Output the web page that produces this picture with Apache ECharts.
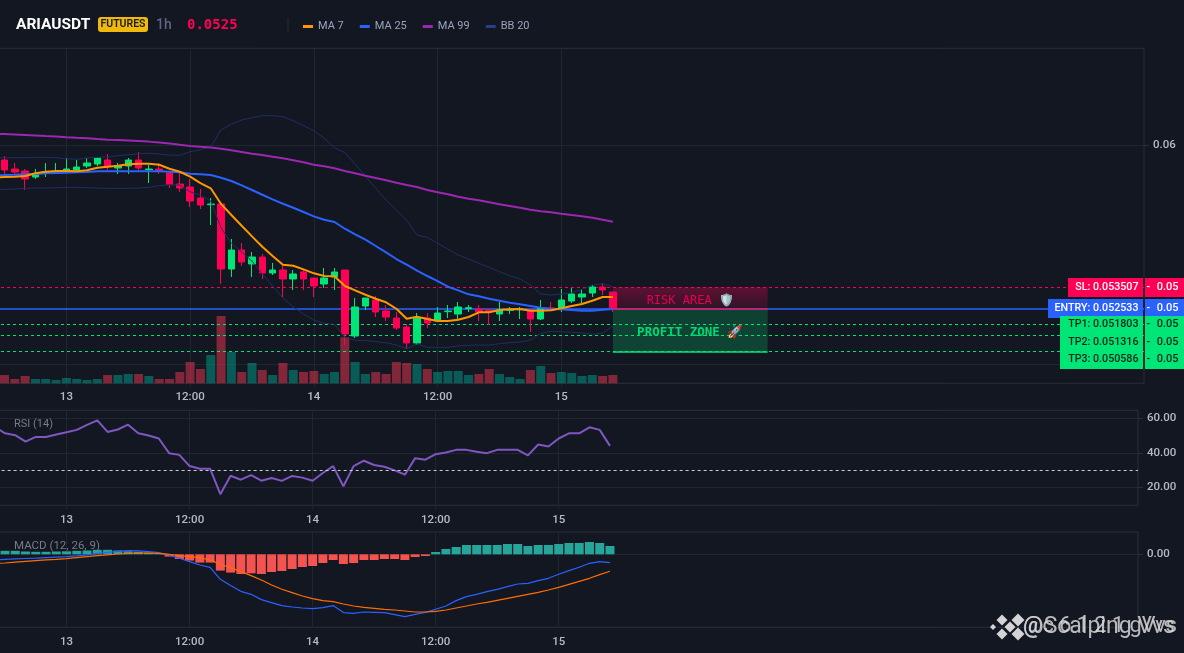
<!DOCTYPE html>
<html><head><meta charset="utf-8">
<style>html,body{margin:0;padding:0;background:#131722}#c{width:1184px;height:653px}</style>
<script src="https://cdn.jsdelivr.net/npm/echarts@6/dist/echarts.min.js"></script>
</head><body><div id="c"></div>
<script>
// prices are in millionths of USDT
const tickIdx=[7,19,31,43,55];
const tickLabels=['13','12:00','14','12:00','15'];
const priceTicks=[50000,60000];
const levelNames=['SL','ENTRY','TP1','TP2','TP3'];
const levelValues=[53507,52533,51803,51316,50586];
const ohlc=[[59400,59250,59150,59500],
[59327,58870,58688,59510],[58916,58779,58688,59190],[58825,58459,57957,58916],[58551,58672,58459,58916],[58749,58794,58551,59190],[58764,58794,58718,59190],[58779,58916,58749,59419],[58870,59007,58825,59327],[59053,59190,58962,59419],[59145,59419,59053,59419],
[59327,59053,58870,59601],[58962,59053,58688,59190],[59053,59327,58688,59419],[59327,58962,58870,59693],[58886,58916,58276,59099],[58916,58840,58688,59190],[58733,58200,58048,58825],[58231,58048,57865,58733],[58094,57454,57180,58459],[57591,57271,57088,58002],
[57286,57317,56357,57591],[57317,54347,53662,57317],[54347,55215,53982,55718],[55215,54667,54484,55535],[54575,54895,53982,55124],[54895,54164,53890,55032],[54164,54301,54073,54621],[54301,53890,53068,54530],[53890,54119,53388,54301],[54210,53890,53388,54301],
[53936,53570,53068,53936],[53660,53935,53478,54391],[53980,54209,53386,54391],[54300,51376,50873,54300],[51285,52610,51193,53021],[52655,53021,52473,53021],[52929,52381,52153,53112],[52427,52153,51970,52701],[52107,51650,51559,52381],[51696,50965,50691,51833],
[50965,52107,50873,52335],[52107,51879,51650,52335],[51970,52335,51924,52610],[52396,52427,52107,52701],[52290,52610,52016,52838],[52533,52579,52381,52701],[52518,52381,51970,52701],[52473,52427,51787,52518],[52290,52473,51970,52838],[52457,52488,52290,52610],
[52488,52518,52061,52610],[52473,52061,51467,52518],[52061,52564,52016,52929],[52564,52473,52427,52838],[52564,52929,52381,53432],[52884,53204,52792,53478],[53066,53204,52792,53432],[53249,53523,53066,53615],[53523,53386,53158,53706],[53295,52564,52381,53295]];
const volume=[6,8.3,4.3,7.3,4.3,4.3,3.3,5.3,4.3,3.3,4.3,8.3,8.3,9.3,9.3,7.3,4.3,4.3,11.3,21.3,14.3,28.3,67.3,31.3,11.3,20.3,13.3,8.3,20.3,13.3,11.3,12.3,9.3,11.3,46,21.3,9.3,11.3,9.3,21.3,20.3,19.3,14.3,11.3,12.3,12.3,8.3,9.3,14.3,9.3,6.3,4.3,13.3,17.3,10.3,11.3,10.3,7.3,8.3,7.3,8.3];
const ma7=[58530,58550,58564,58596,58719,58792,58824,58824,58811,58856,58975,59021,59067,59130,59158,59158,59112,58929,58792,58564,58276,58034,57316,56813,56325,55839,55365,54940,54542,54497,54332,54149,54026,54012,53569,53372,53171,52988,52824,52531,52074,52166,52061,51969,51969,52029,52152,52367,52367,52472,52504,52518,52440,52440,52458,52550,52655,52746,52897,53066,53066];
const ma25=[58630,58641,58655,58673,58687,58719,58733,58747,58765,58779,58811,58811,58811,58811,58811,58811,58811,58792,58765,58701,58673,58641,58518,58367,58171,57956,57741,57531,57330,57147,56951,56754,56599,56494,56187,55931,55685,55397,55109,54803,54542,54268,54026,53797,53537,53372,53189,53098,52988,52897,52806,52732,52655,52577,52531,52504,52472,52440,52440,52486,52518];
const ma99=[60530,60515,60497,60474,60451,60424,60401,60369,60342,60319,60287,60259,60241,60218,60195,60168,60127,60081,60022,59967,59930,59898,59843,59770,59693,59615,59555,59478,59405,59313,59222,59112,59039,58948,58824,58719,58610,58504,58399,58290,58184,58093,57956,57851,57759,57650,57558,57485,57394,57302,57225,57147,57056,56983,56937,56873,56813,56754,56690,56599,56507];
const bbUpper=[59432,59432,59432,59432,59450,59450,59432,59386,59359,59418,59450,59478,59524,59569,59615,59633,59601,59555,59542,59706,59798,59935,60698,60972,61155,61260,61352,61352,61306,61123,60895,60666,60319,59889,59661,59144,58596,58034,57499,57042,56585,55899,55794,55520,55260,54985,54803,54606,54423,54222,54040,53889,53614,53203,53157,53203,53263,53418,53614,53674,53537];
const bbLower=[57980,57988,58002,58034,58047,58047,58061,58079,58079,58061,58047,58034,58034,58034,58047,58079,58153,58198,58184,57878,57714,57453,56219,55534,55123,54711,54117,53569,53020,52609,52289,52015,51864,51818,51224,51087,51087,51023,50978,50872,50703,50918,50767,50767,50767,50827,50859,50872,50872,50932,50978,51010,51101,51407,51499,51480,51453,51421,51361,51421,51741];
const rsi=[55,51.3,50.2,46.5,49.2,49.2,50.6,51.9,53.3,56.2,58.8,52.1,53.5,56.3,51.3,50,48.3,39.8,38.8,32.3,30.8,30.8,16,26.7,24.4,27.1,23.8,25.4,23.7,26.6,25.6,23.8,28.3,32.3,20.6,32.3,35.4,32.9,31.9,29.8,27.3,36.9,36,39.2,40.2,41.7,41.7,40.6,39.8,41.7,41.7,41.7,38.5,44.8,43.7,48.3,51.3,51.3,54.8,53.3,44];
const rsiOversold=30;
// MACD values in units of 0.00001
const macdHist=[3.5,3.5,3.5,2.8,2.5,2.5,2.8,3,3.5,3.8,4.5,4.5,3.8,3,2.5,1.8,1,-2.3,-4.7,-6.3,-8.3,-8.3,-16.3,-18.3,-19.7,-19,-19.7,-17.7,-16.7,-14.7,-12.7,-11.7,-8.7,-5.7,-9.7,-8.7,-5.7,-5.7,-4.7,-4.7,-5.7,-2.7,-1.7,2.3,5.3,7.3,9.3,9.3,9.3,9.3,10.3,10.3,8.3,9.3,9.3,10.3,11.3,11.3,12.3,11.3,8.3];
const macdLine=[-5.6,-5,-4.6,-4.2,-3.8,-3.3,-2.8,-2.3,-1.6,-0.6,1,2,3,3.7,3.4,2.6,1.7,-0.8,-4,-7.3,-10.7,-13,-25,-31.3,-37,-40,-45.3,-48.3,-51.3,-52.7,-53.7,-54.3,-53.3,-51.3,-58.3,-59,-57.7,-58,-58.3,-60.3,-62.3,-60,-58,-55,-51.7,-46.3,-42.3,-40,-37.3,-35,-32.3,-29.7,-29,-26.3,-24,-20,-16.3,-13,-9,-7.3,-8.3];
const macdSignal=[-9.2,-8.7,-7.9,-7.1,-6.3,-5.6,-5,-4.3,-3.3,-2.3,-1.3,-0.5,0.3,1,1.1,1.1,1,0,-1.3,-2.3,-3.3,-5.7,-10,-13.3,-17.3,-21.3,-25.7,-30.7,-35,-38.3,-41.7,-44.3,-46.3,-47.3,-49.7,-51.7,-53,-54,-55,-55.7,-56.7,-57.7,-57.7,-57,-55.7,-53.7,-51.7,-49.7,-48,-46,-44,-42,-40,-38,-35.7,-33,-30,-27,-24,-20.3,-17];

const N=112;
const cats=Array.from({length:N},(_,i)=>String(i));
const bg='#131722',gridC='#21252f',borderC='#2a2e39',axisTxt='#b7bac3';
const up='#00e676',down='#ff0055';
const SANS='Roboto,sans-serif';

const xAxisOf=(g,show,margin)=>({type:'category',gridIndex:g,data:cats,boundaryGap:true,
  axisLine:{show:false},
  axisTick:{show:show,alignWithLabel:true,length:4,lineStyle:{color:gridC},interval:i=>tickIdx.includes(i)},
  axisLabel:{show:show,interval:i=>tickIdx.includes(i),color:axisTxt,fontFamily:SANS,fontSize:11.5,fontWeight:500,margin:margin,
    formatter:v=>{const k=tickIdx.indexOf(+v);return k>=0?tickLabels[k]:''}},
  splitLine:{show:show,alignWithLabel:true,lineStyle:{color:gridC},interval:i=>tickIdx.includes(i)}});
const yAxisOf=(g,min,max,ticks,fmt,margin)=>({type:'value',gridIndex:g,position:'right',min,max,
  axisLine:{show:false},
  axisTick:{show:true,length:5,lineStyle:{color:borderC},customValues:ticks},
  axisLabel:{show:true,color:axisTxt,fontFamily:SANS,fontSize:11.5,fontWeight:500,margin:margin,padding:[4,0,0,0],customValues:ticks,formatter:fmt,showMinLabel:true,showMaxLabel:true},
  splitLine:{show:true,lineStyle:{color:gridC}}});

const lineS=(name,data,color,width,x,y,z)=>({name,type:'line',xAxisIndex:x,yAxisIndex:y,data,showSymbol:false,symbol:'none',
  lineStyle:{color,width},itemStyle:{color},z,animation:false,silent:true});
const level=(n)=>levelValues[levelNames.indexOf(n)];
const grad=(a,b)=>({type:'linear',x:0,y:0,x2:0,y2:1,colorStops:[{offset:0,color:a},{offset:1,color:b}]});
const paneBase={show:true,borderColor:borderC,borderWidth:1,backgroundColor:'transparent',outerBoundsMode:'none'};

const option={
  backgroundColor:bg,animation:false,
  grid:[
    {...paneBase,left:-10.96,top:48.3,width:1154.96,height:335},
    {left:-10.96,top:48.3,width:1154.96,height:335,outerBoundsMode:'none'},
    {...paneBase,left:-10.35,top:410.3,width:1148.35,height:95},
    {...paneBase,left:-10.35,top:532,width:1148.35,height:95.3}
  ],
  xAxis:[xAxisOf(0,true,8),xAxisOf(1,false,8),xAxisOf(2,true,9),xAxisOf(3,true,9)],
  yAxis:[
    yAxisOf(0,49123,64433,priceTicks,v=>(v/1e6).toFixed(2),9),
    {type:'value',gridIndex:1,min:0,max:335,show:false,splitLine:{show:false}},
    yAxisOf(2,9.56,64.64,[20,40,60],v=>v.toFixed(2),9),
    yAxisOf(3,-73,22.3,[0],v=>v.toFixed(2),9)
  ],
  legend:{left:298,top:16,itemWidth:10,itemHeight:3,itemGap:16,icon:'rect',
    textStyle:{color:'#9aa3bb',fontFamily:SANS,fontSize:11,padding:[0,0,0,0]},
    data:['MA 7','MA 25','MA 99',{name:'BB 20',itemStyle:{color:'#27408b'}}],selectedMode:false},
  series:[
    {name:'Volume',type:'bar',xAxisIndex:1,yAxisIndex:1,barWidth:9,z:1,silent:true,
      data:volume.map((v,i)=>({value:v,itemStyle:{color:ohlc[i][1]>=ohlc[i][0]?'rgba(0,160,140,0.5)':'rgba(242,54,79,0.5)'}}))},
    {name:'Levels',type:'line',xAxisIndex:0,yAxisIndex:0,data:[],z:2,silent:true,
      markLine:{silent:true,symbol:'none',animation:false,z:2,label:{show:false},
        data:[
          {yAxis:level('SL'),lineStyle:{color:down,type:[3,3],width:1}},
          {yAxis:level('ENTRY'),lineStyle:{color:'#2962ff',type:'solid',width:1.5}},
          {yAxis:level('TP1'),lineStyle:{color:up,type:[3,3],width:1}},
          {yAxis:level('TP2'),lineStyle:{color:up,type:[3,3],width:1}},
          {yAxis:level('TP3'),lineStyle:{color:up,type:[3,3],width:1}}
        ]}},
    {name:'Price',type:'candlestick',xAxisIndex:0,yAxisIndex:0,data:ohlc,barWidth:7,z:3,silent:true,
      itemStyle:{color:up,color0:down,borderColor:up,borderColor0:down,borderWidth:1}},
    lineS('BB 20',bbUpper,'#1f2f63',1,0,0,4),
    lineS('BB 20',bbLower,'#1f2f63',1,0,0,4),
    lineS('MA 99',ma99,'#9c27b0',2,0,0,5),
    lineS('MA 25',ma25,'#2962ff',2,0,0,5),
    lineS('MA 7',ma7,'#ff9800',2,0,0,6),
    {name:'Zones',type:'line',xAxisIndex:0,yAxisIndex:0,data:[],z:7,silent:true,
      markArea:{silent:true,z:7,animation:false,
        data:[
          [{xAxis:60,yAxis:level('SL'),name:'RISK AREA 🛡️',
            itemStyle:{color:grad('rgba(255,0,85,0.32)','rgba(255,0,85,0.12)')},
            label:{show:true,position:'inside',offset:[0,3],color:'#e6004f',fontFamily:'"DejaVu Sans Mono",monospace',fontSize:12,fontWeight:500,
              formatter:'{b}'}},
           {xAxis:75,yAxis:level('ENTRY')}],
          [{xAxis:60,yAxis:level('ENTRY'),name:'PROFIT ZONE 🚀',
            itemStyle:{color:grad('rgba(0,230,118,0.2)','rgba(0,230,118,0.22)')},
            label:{show:true,position:'inside',offset:[0,3],color:'#00d873',fontFamily:'"DejaVu Sans Mono",monospace',fontSize:12.5,fontWeight:'bold',
              formatter:'{b}'}},
           {xAxis:75,yAxis:level('TP3')}]
        ]},
      markLine:{silent:true,symbol:'none',animation:false,z:8,label:{show:false},
        data:[
          [{coord:[60,level('ENTRY')],lineStyle:{color:'#e5195f',type:'solid',width:1.5}},{coord:[75,level('ENTRY')]}],
          [{coord:[60,level('TP3')],lineStyle:{color:up,type:'solid',width:1.5}},{coord:[75,level('TP3')]}]
        ]}},
    {...lineS('RSI',rsi,'#7e57c2',2,2,2,4),
      markLine:{silent:true,symbol:'none',animation:false,label:{show:false},
        data:[{yAxis:rsiOversold,lineStyle:{color:'#c8ccd6',type:[3,3],width:1}}]}},
    {name:'Hist',type:'bar',xAxisIndex:3,yAxisIndex:3,barWidth:9,z:2,silent:true,
      data:macdHist.map(v=>({value:v,itemStyle:{color:v>=0?'#26a69a':'#f4534f'}}))},
    lineS('MACD',macdLine,'#2962ff',1.2,3,3,4),
    lineS('Signal',macdSignal,'#ff6d00',1.2,3,3,5)
  ],
  graphic:{elements:buildGraphic()}
};

function buildGraphic(){
  const out=[];
  const txt=(x,y,text,font,fill,align='left',z=50)=>out.push({type:'text',x,y,z,zlevel:1,silent:true,
    style:{text,font,fill,textAlign:align,textVerticalAlign:'middle'}});
  const box=(x,y,w,h,fill,r=0,z=40)=>out.push({type:'rect',z,zlevel:1,silent:true,shape:{x,y,width:w,height:h,r},style:{fill}});
  txt(16,25,'ARIAUSDT','700 15.5px Roboto','#ffffff');
  box(98,17,50,15,'#f0b90b',3);
  txt(123,24.7,'FUTURES','600 10.5px Roboto','#1a1d24','center');
  txt(156,25,'1h','500 14px Roboto','#5d6580');
  txt(187,25,'0.0525','700 14px "DejaVu Sans Mono"','#ff0055');
  box(287.5,18,1,14,'#2a2e39');
  // level tags
  const f='500 10.7px Roboto';
  const row=(n,ty,ink)=>{
    const v=levelValues[levelNames.indexOf(n)];
    txt(1138.5,ty,n+': '+(v/1e6).toFixed(6),f,ink,'right');
    txt(1146.5,ty,'-',f,ink);
    txt(1178.5,ty,(v/1e6).toFixed(2),'500 11px Roboto',ink,'right');
  };
  box(1068,278,75,19,down); box(1145,278,39,19,down);
  box(1048,299,95,19,'#2962ff'); box(1145,299,39,19,'#2962ff');
  box(1060,316,83,53,up); box(1145,316,39,53,up);
  row('SL',287.5,'#ffffff');
  row('ENTRY',308.5,'#ffffff');
  row('TP1',324.7,'#10221c');
  row('TP2',342,'#10221c');
  row('TP3',359,'#10221c');
  // pane captions
  txt(14,424,'RSI (14)','400 11px Roboto','#787b86');
  txt(14,546,'MACD (12, 26, 9)','400 11.5px Roboto','#787b86');
  // watermark
  const wm='#d4d4d4';
  [[993,627,3],[1002,620,5.5],[1002,634,5.5],[1010,627,5.5],[1018,620,6.5],[1018,634,6.5]].forEach(([x,y,r])=>{
    out.push({type:'polygon',z:60,zlevel:1,silent:true,shape:{points:[[x-r,y],[x,y-r],[x+r,y],[x,y+r]]},style:{fill:wm}});
  });
  txt(1023,627,'@Scalping Vvs','400 23px Roboto','rgba(215,215,215,0.85)');
  txt(1023,627,'@c 6 1 2 1 gVvs','400 21.7px Roboto','rgba(215,215,215,0.85)');
  return out;
}
const chart=echarts.init(document.getElementById('c'),null,{renderer:'canvas'});
chart.setOption(option);
</script></body></html>
